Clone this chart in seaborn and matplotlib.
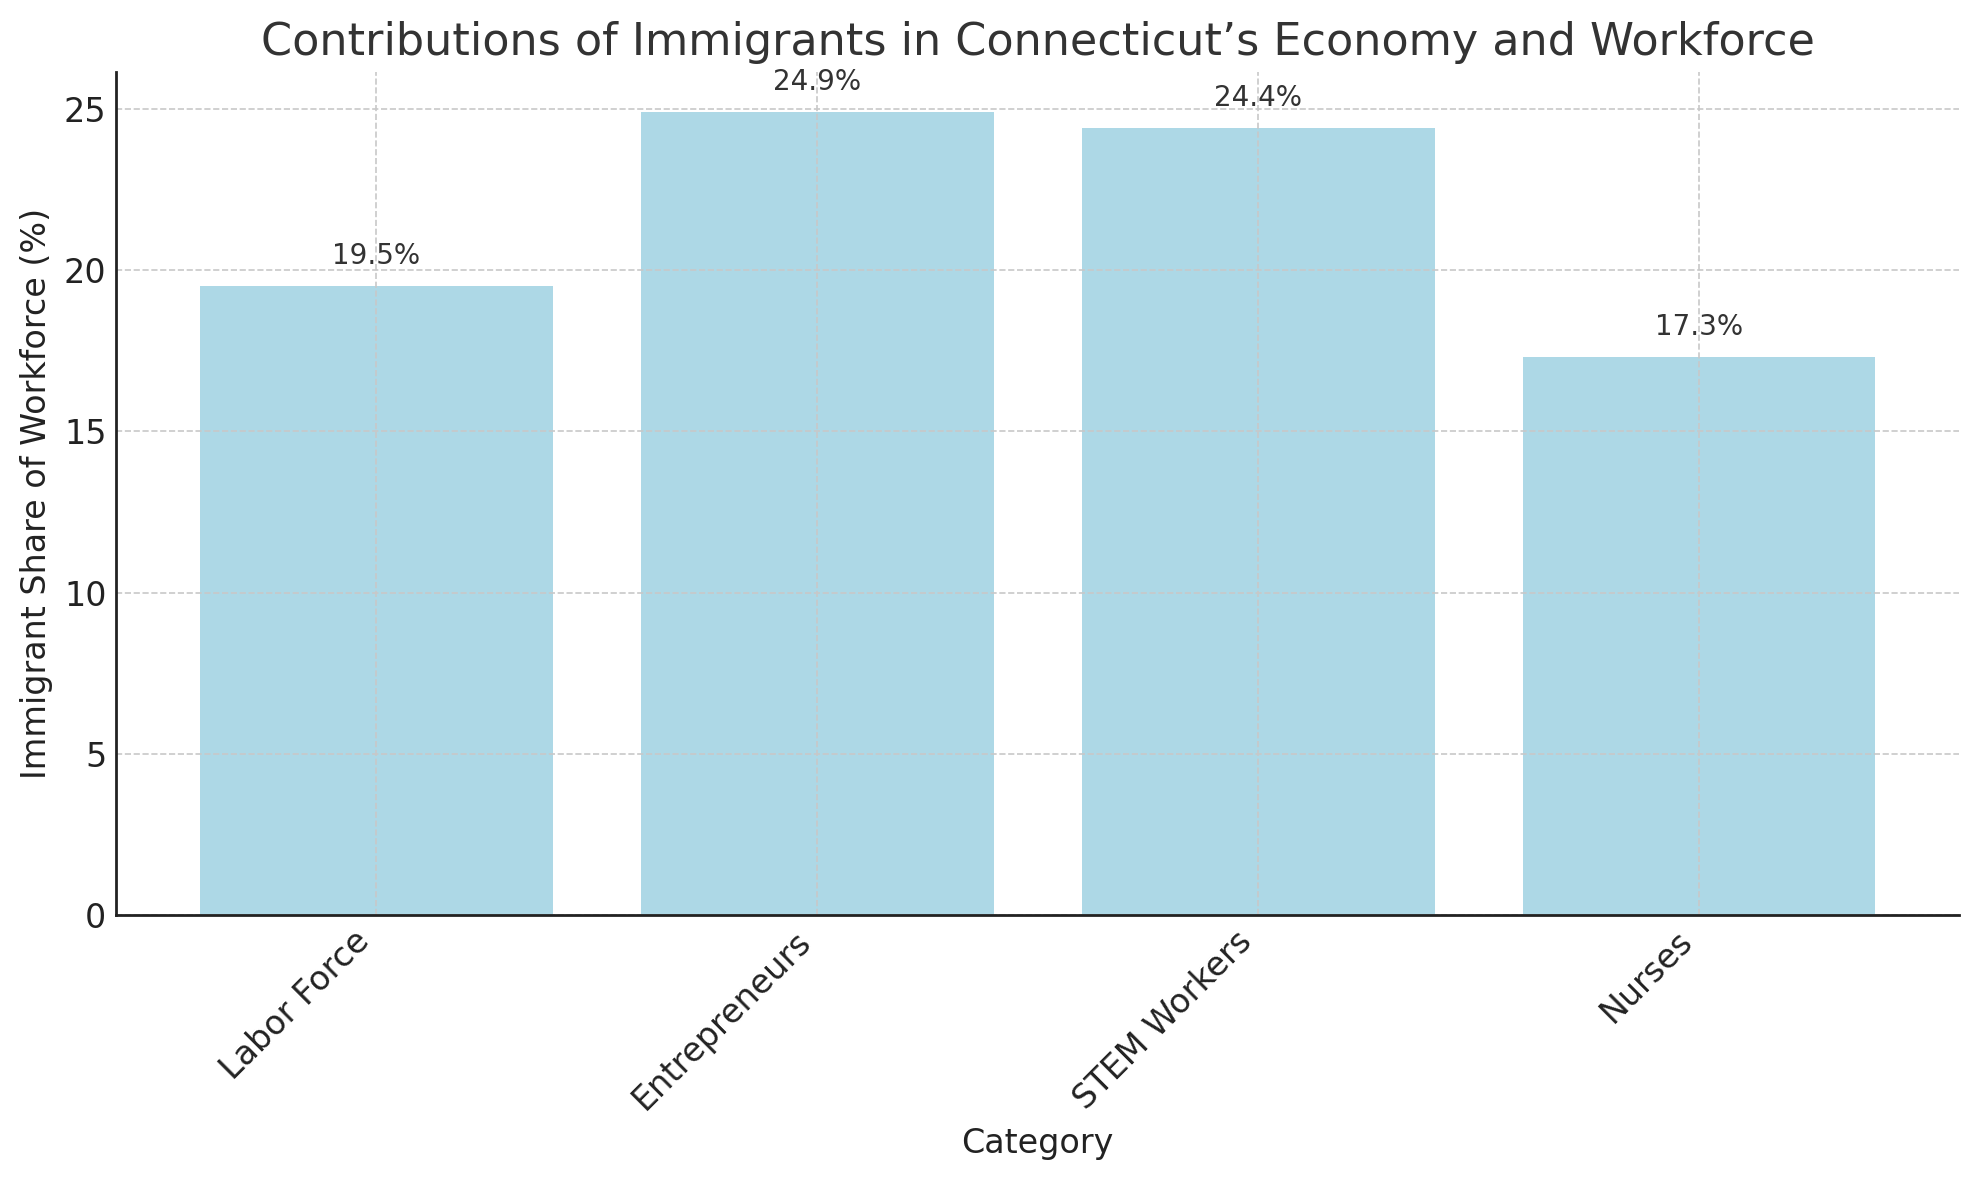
import matplotlib
matplotlib.use("Agg")
import matplotlib.pyplot as plt
import seaborn as sns
import pandas as pd

categories = ["Labor Force", "Entrepreneurs", "STEM Workers", "Nurses"]
values = [19.5, 24.9, 24.4, 17.3]

df = pd.DataFrame({"Category": categories, "Share": values})

sns.set_style("white")
plt.rcParams["font.family"] = ["DejaVu Sans"]

fig = plt.figure(figsize=(9.895, 5.9), dpi=200)
ax = fig.add_axes([0.0587, 0.2246, 0.9313, 0.7144])

sns.barplot(data=df, x="Category", y="Share", color="#ADD8E6", saturation=1,
            width=0.8, linewidth=0, ax=ax, zorder=1)
ax.set_xlim(-0.59, 3.59)
ax.set_ylim(0, 24.9 * 1.05)
ax.set_yticks([0, 5, 10, 15, 20, 25])

for p, v in zip(ax.patches, values):
    ax.text(p.get_x() + p.get_width() / 2, v + 0.5, f"{v}%", ha="center", va="bottom",
            fontsize=10, color="#333333")

ax.grid(True, linestyle="--", color="#c8c8c8", linewidth=0.6, zorder=2)
ax.set_axisbelow(False)
for s in ["top", "right"]:
    ax.spines[s].set_visible(False)
for s in ["left", "bottom"]:
    ax.spines[s].set_color("#222222")
    ax.spines[s].set_linewidth(1.0)
    ax.spines[s].set_zorder(3)

ax.tick_params(axis="both", direction="in", length=3.5, width=1, colors="#222222", labelsize=12)
plt.setp(ax.get_xticklabels(), rotation=45, ha="right", rotation_mode="default")

ax.set_title("Contributions of Immigrants in Connecticut’s Economy and Workforce",
             fontsize=16, color="#333333")
ax.set_xlabel("Category", fontsize=12, color="#222222")
ax.set_ylabel("Immigrant Share of Workforce (%)", fontsize=12, color="#222222")

fig.savefig("out.png", dpi=200)
